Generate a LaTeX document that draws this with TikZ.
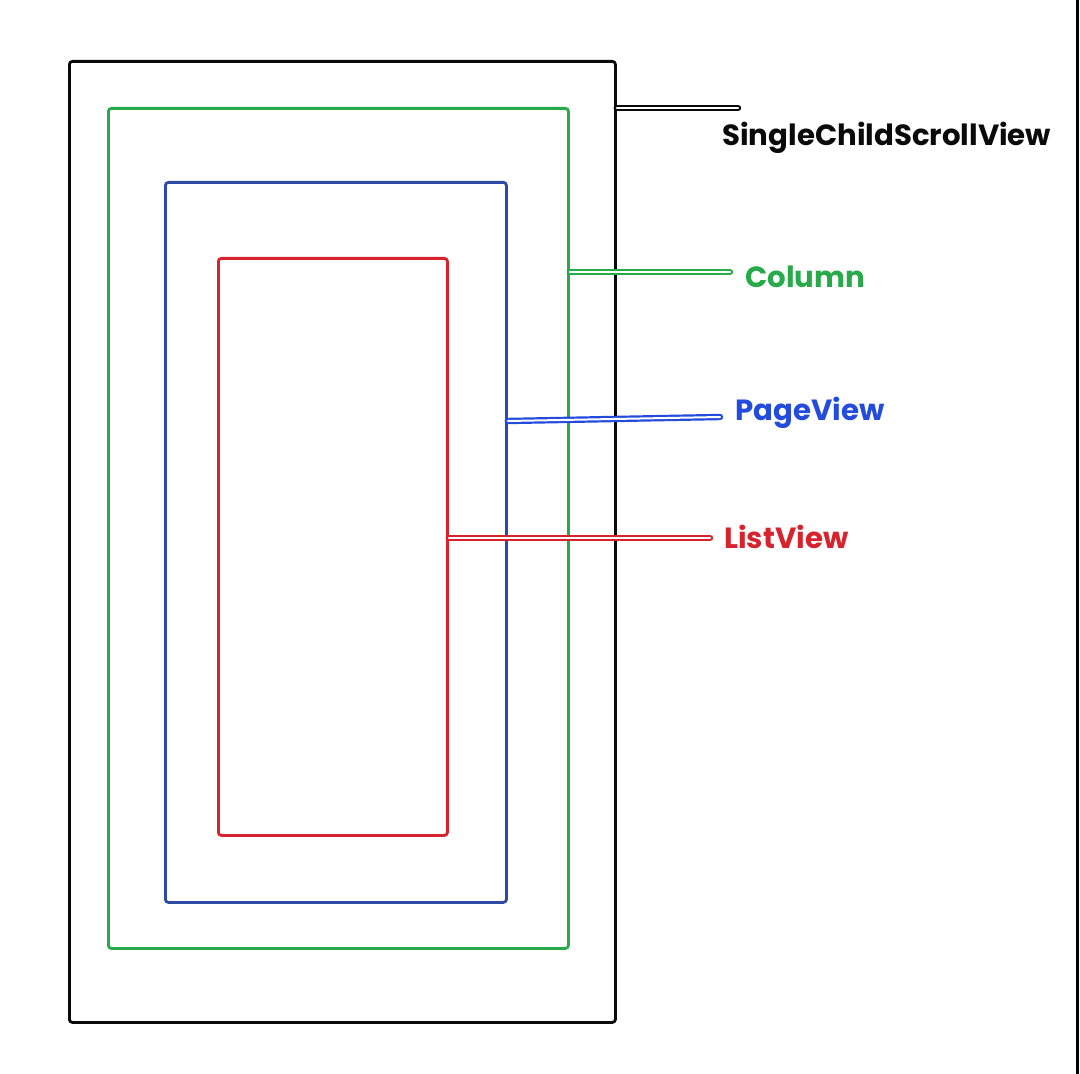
\documentclass[tikz,border=0pt]{standalone}
\usepackage{fontspec}
\newfontfamily\lblfont{Poppins}
\usetikzlibrary{positioning}
\definecolor{scvblack}{RGB}{10,10,10}
\definecolor{colgreen}{RGB}{40,170,75}
\definecolor{pvblue}{RGB}{45,75,165}
\definecolor{pvtext}{RGB}{35,75,220}
\definecolor{lvred}{RGB}{215,35,45}
\tikzstyle{wbox}=[draw, line width=1.4pt, rounded corners=1.5pt, inner sep=0pt, anchor=north west]
\tikzstyle{leader}=[line width=1.1pt, double=white, double distance=1pt, line cap=round]
\tikzstyle{lbl}=[font=\lblfont\bfseries\fontsize{14.6}{17}\selectfont, inner sep=0pt]

\begin{document}
\begin{tikzpicture}[x=0.5pt,y=-0.5pt]
\useasboundingbox (0,0) rectangle (1080,1074);
\fill[white] (0,0) rectangle (1080,1074);
\draw[line width=1.5pt] (1077,0) -- (1077,1074);
% boxes
\node [wbox,scvblack,minimum width=273pt,minimum height=480.5pt] (scv) at (68,60) {};
\node [wbox,colgreen,minimum width=230pt,minimum height=420pt] (col) at (107,107) {};
\node [wbox,pvblue,minimum width=170.5pt,minimum height=360pt] (pv) at (164,181) {};
\node [wbox,lvred,minimum width=114.5pt,minimum height=288.5pt] (lv) at (217,257) {};
% leader ends
\coordinate (scvend) at (738,108);
\coordinate (colend) at (730,272);
\coordinate (pvend) at (720,417);
\coordinate (lvend) at (710,538);
% labels
\node [lbl,text=scvblack,anchor=west] (scvlbl) at (722,138) {SingleChildScrollView};
\node [lbl,text=colgreen,right=7.5pt of colend,yshift=-2.5pt] (collbl) {Column};
\node [lbl,text=pvtext,right=7.5pt of pvend,yshift=2pt] (pvlbl) {PageView};
\node [lbl,text=lvred,right=7pt of lvend,yshift=0.5pt] (lvlbl) {ListView};
% leaders
\draw[leader,scvblack] (scv.east |- scvend) -- (scvend);
\draw[leader,colgreen] (col.east |- colend) -- (colend);
\draw[leader,pvtext] ([yshift=-2pt]pv.east |- pvend) -- (pvend);
\draw[leader,lvred] (lv.east |- lvend) -- (lvend);
\end{tikzpicture}
\end{document}
